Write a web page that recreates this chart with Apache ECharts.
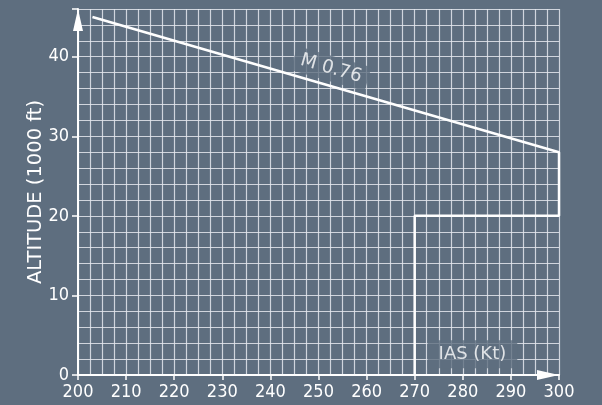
<!DOCTYPE html>
<html><head><meta charset="utf-8">
<script src="https://cdn.jsdelivr.net/npm/echarts@6/dist/echarts.min.js"></script>
<style>html,body{margin:0;padding:0;background:#5e6e7f;}#c{width:602px;height:405px;}</style>
</head><body><div id="c"></div>
<script>
const xTicks = [200, 210, 220, 230, 240, 250, 260, 270, 280, 290, 300];
const yTicks = [0, 10, 20, 30, 40];
const limitIAS = [203, 300, 300, 270, 270];
const limitAlt = [45, 28, 20, 20, 0];
const machLabel = {text: 'M 0.76', ias: 252.6, alt: 38.5};
const iasLabel = {text: 'IAS (Kt)', ias: 282, alt: 2.6};
const yName = 'ALTITUDE (1000 ft)';

const FONT = "'DejaVu Sans Condensed', 'DejaVu Sans'";
const FONT2 = "'DejaVu Sans'";
const WHITE = '#ffffff';
const BG = '#5e6e7f';
const GRIDC = 'rgba(228,232,237,0.85)';

const chart = echarts.init(document.getElementById('c'), null, {renderer: 'canvas'});
const lineData = limitIAS.map((v, i) => [v, limitAlt[i]]);

chart.setOption({
  backgroundColor: BG,
  animation: false,
  grid: {left: 78, right: 43, top: 9, bottom: 30, containLabel: false},
  xAxis: [
    {type: 'value', min: xTicks[0], max: xTicks[xTicks.length - 1], interval: 2.5, position: 'bottom',
     axisLine: {show: false}, axisTick: {show: false}, axisLabel: {show: false},
     splitLine: {show: true, lineStyle: {color: GRIDC, width: 1.2}}},
    {type: 'value', min: xTicks[0], max: xTicks[xTicks.length - 1], interval: 10, position: 'bottom',
     axisLine: {show: true, lineStyle: {color: WHITE, width: 2}, symbol: ['none', 'triangle'], symbolSize: [10, 22], symbolOffset: [0, -11]},
     axisTick: {show: true, length: 5, lineStyle: {color: WHITE, width: 1.5}},
     axisLabel: {show: true, color: WHITE, fontFamily: FONT, fontSize: 18, margin: 8},
     splitLine: {show: false}}
  ],
  yAxis: [
    {type: 'value', min: 0, max: 46, interval: 2, position: 'left',
     axisLine: {show: false}, axisTick: {show: false}, axisLabel: {show: false},
     splitLine: {show: true, lineStyle: {color: GRIDC, width: 1.2}}},
    {type: 'value', min: 0, max: 46, interval: 10, position: 'left',
     axisLine: {show: true, lineStyle: {color: WHITE, width: 2}, symbol: ['none', 'triangle'], symbolSize: [10, 22], symbolOffset: [0, -11]},
     axisTick: {show: true, length: 6, lineStyle: {color: WHITE, width: 1.5}},
     axisLabel: {show: true, color: WHITE, fontFamily: FONT, fontSize: 18, margin: 9,
       formatter: v => (yTicks.indexOf(v) >= 0 ? String(v) : '')},
     splitLine: {show: false},
     name: yName, nameLocation: 'middle', nameGap: 32, nameMoveOverlap: false,
     nameTextStyle: {color: WHITE, fontFamily: FONT2, fontSize: 19.5}}
  ],
  series: [
    {type: 'line', xAxisIndex: 0, yAxisIndex: 0, data: lineData, symbol: 'none',
     lineStyle: {color: WHITE, width: 2.5}, z: 5},
    {type: 'scatter', xAxisIndex: 0, yAxisIndex: 0, symbolSize: 0, z: 6, silent: true,
     data: [
       {value: [machLabel.ias, machLabel.alt], label: {show: true, formatter: machLabel.text, position: 'inside', rotate: -16,
         color: WHITE, fontFamily: FONT2, fontSize: 18.5, backgroundColor: BG, padding: [3, 7, 3, 7]}},
       {value: [iasLabel.ias, iasLabel.alt], label: {show: true, formatter: iasLabel.text, position: 'inside',
         color: WHITE, fontFamily: FONT2, fontSize: 18, backgroundColor: BG, padding: [5, 11, 5, 11]}}
     ]}
  ]
});
</script></body></html>
